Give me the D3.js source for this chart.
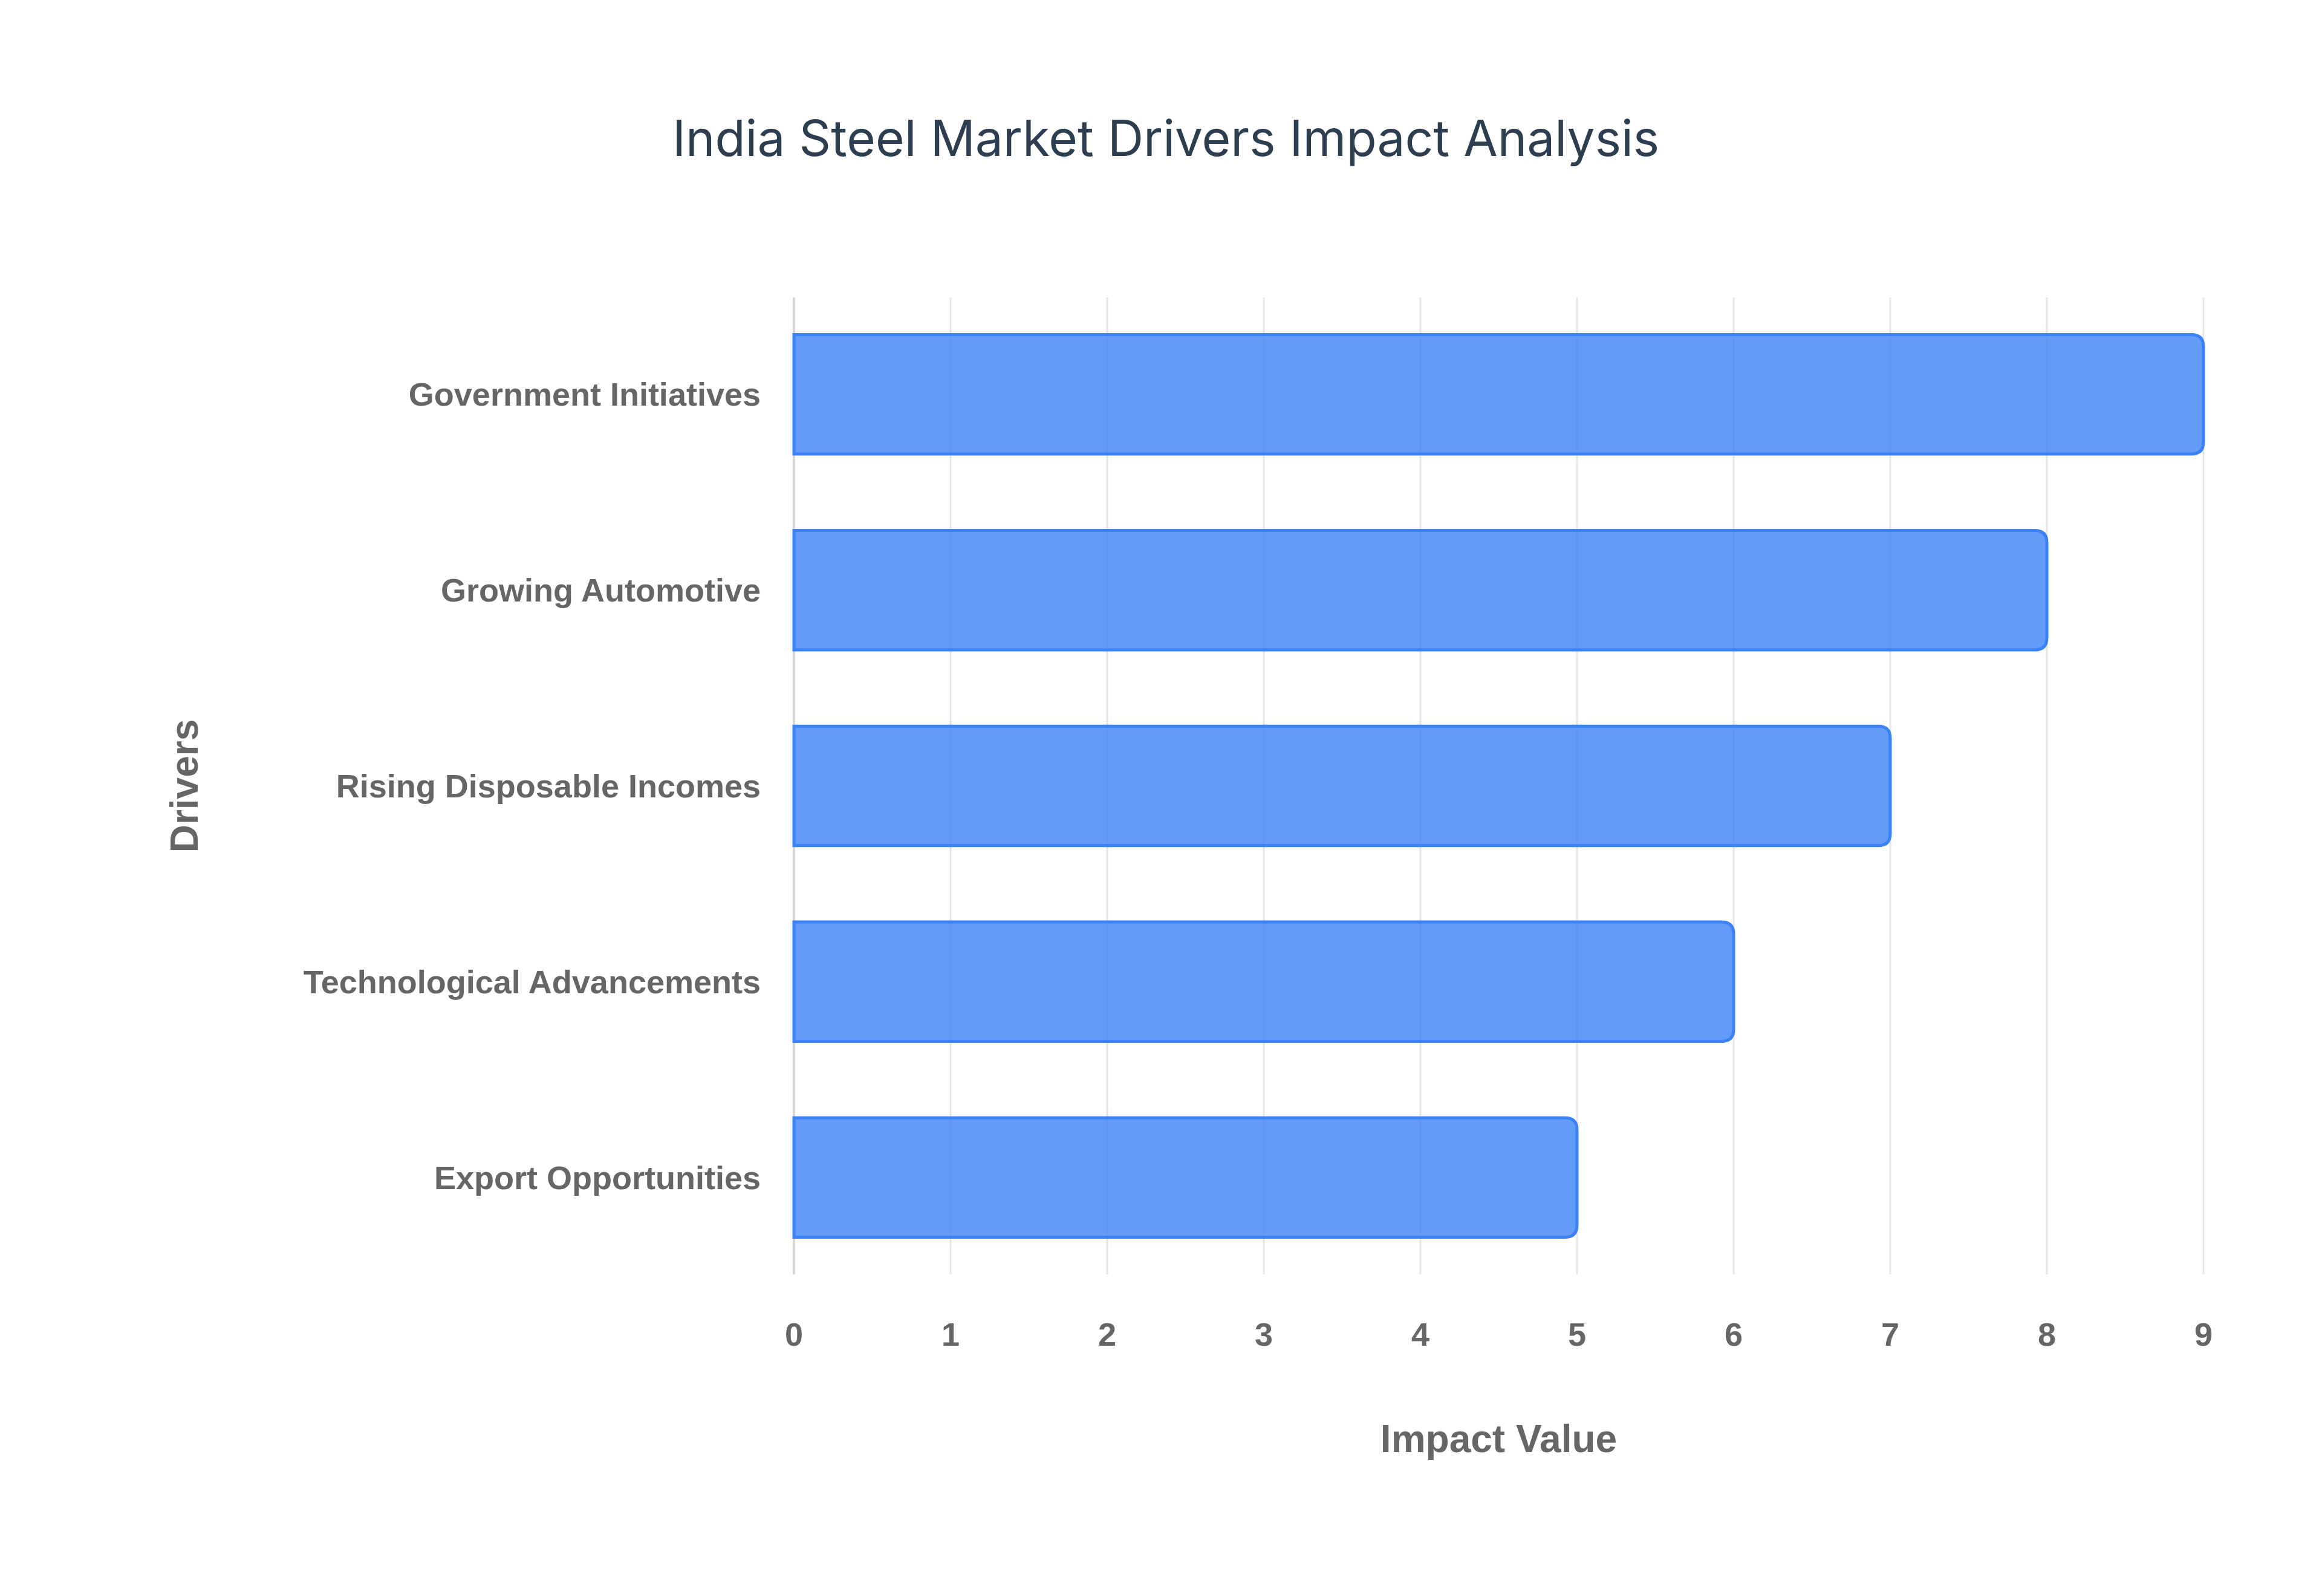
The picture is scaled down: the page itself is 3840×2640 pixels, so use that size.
<!DOCTYPE html>
<html>
<head>
<meta charset="utf-8">
<script src="https://cdn.jsdelivr.net/npm/d3@7"></script>
<style>
body { margin: 0; background: #fff; }
</style>
</head>
<body>
<script>
var drivers = ["Government Initiatives", "Growing Automotive", "Rising Disposable Incomes", "Technological Advancements", "Export Opportunities"];
var impactValues = [9, 8, 7, 6, 5];
var xTicks = [0, 1, 2, 3, 4, 5, 6, 7, 8, 9];

var width = 3840, height = 2640;
var margin = {top: 492, right: 196, bottom: 532, left: 1313};

var svg = d3.select("body").append("svg")
	.attr("width", width)
	.attr("height", height);

var x = d3.scaleLinear().domain([0, 9]).range([margin.left, width - margin.right]);
var y = d3.scaleBand().domain(drivers).range([margin.top, height - margin.bottom]).paddingInner(0.39).paddingOuter(0.19);

// grid lines
svg.append("g").selectAll("line")
	.data(xTicks)
	.enter().append("line")
	.attr("x1", d => x(d)).attr("x2", d => x(d))
	.attr("y1", margin.top).attr("y2", height - margin.bottom)
	.attr("stroke", d => d == 0 ? "#d0d0d0" : "#e6e6e6")
	.attr("stroke-width", 3);

// bars, rounded on the right end only
var r = 20;
svg.append("g").selectAll("path")
	.data(impactValues)
	.enter().append("path")
	.attr("d", function (d, i) {
		var x0 = x(0), x1 = x(d), y0 = y(drivers[i]), h = y.bandwidth();
		return "M" + x0 + "," + y0 + "H" + (x1 - r) + "Q" + x1 + "," + y0 + " " + x1 + "," + (y0 + r) +
			"V" + (y0 + h - r) + "Q" + x1 + "," + (y0 + h) + " " + (x1 - r) + "," + (y0 + h) + "H" + x0 + "Z";
	})
	.attr("fill", "rgba(59,130,246,0.8)")
	.attr("stroke", "#3b82f6")
	.attr("stroke-width", 5);

// x axis tick labels
svg.append("g").selectAll("text")
	.data(xTicks)
	.enter().append("text")
	.attr("x", d => x(d))
	.attr("y", 2226)
	.attr("text-anchor", "middle")
	.attr("font-family", "Liberation Sans, Arial, sans-serif")
	.attr("font-weight", "bold")
	.attr("font-size", 54)
	.attr("fill", "#666")
	.text(d => d);

// category labels
svg.append("g").selectAll("text")
	.data(drivers)
	.enter().append("text")
	.attr("x", 1258)
	.attr("y", d => y(d) + y.bandwidth() / 2)
	.attr("dy", "0.35em")
	.attr("text-anchor", "end")
	.attr("font-family", "Liberation Sans, Arial, sans-serif")
	.attr("font-weight", "bold")
	.attr("font-size", 54)
	.attr("fill", "#666")
	.text(d => d);

// axis titles
svg.append("text")
	.attr("x", x(4.5)).attr("y", 2402)
	.attr("text-anchor", "middle")
	.attr("font-family", "Liberation Sans, Arial, sans-serif")
	.attr("font-weight", "bold")
	.attr("font-size", 64)
	.attr("fill", "#666")
	.text("Impact Value");

svg.append("text")
	.attr("transform", "translate(327," + (y.range()[0] + y.range()[1]) / 2 + ") rotate(-90)")
	.attr("text-anchor", "middle")
	.attr("font-family", "Liberation Sans, Arial, sans-serif")
	.attr("font-weight", "bold")
	.attr("font-size", 64)
	.attr("fill", "#666")
	.text("Drivers");

// title
svg.append("text")
	.attr("x", 1928).attr("y", 258)
	.attr("text-anchor", "middle")
	.attr("font-family", "Inter, sans-serif")
	.attr("font-size", 82)
	.attr("fill", "#2c3e50")
	.text("India Steel Market Drivers Impact Analysis");
</script>
</body>
</html>
